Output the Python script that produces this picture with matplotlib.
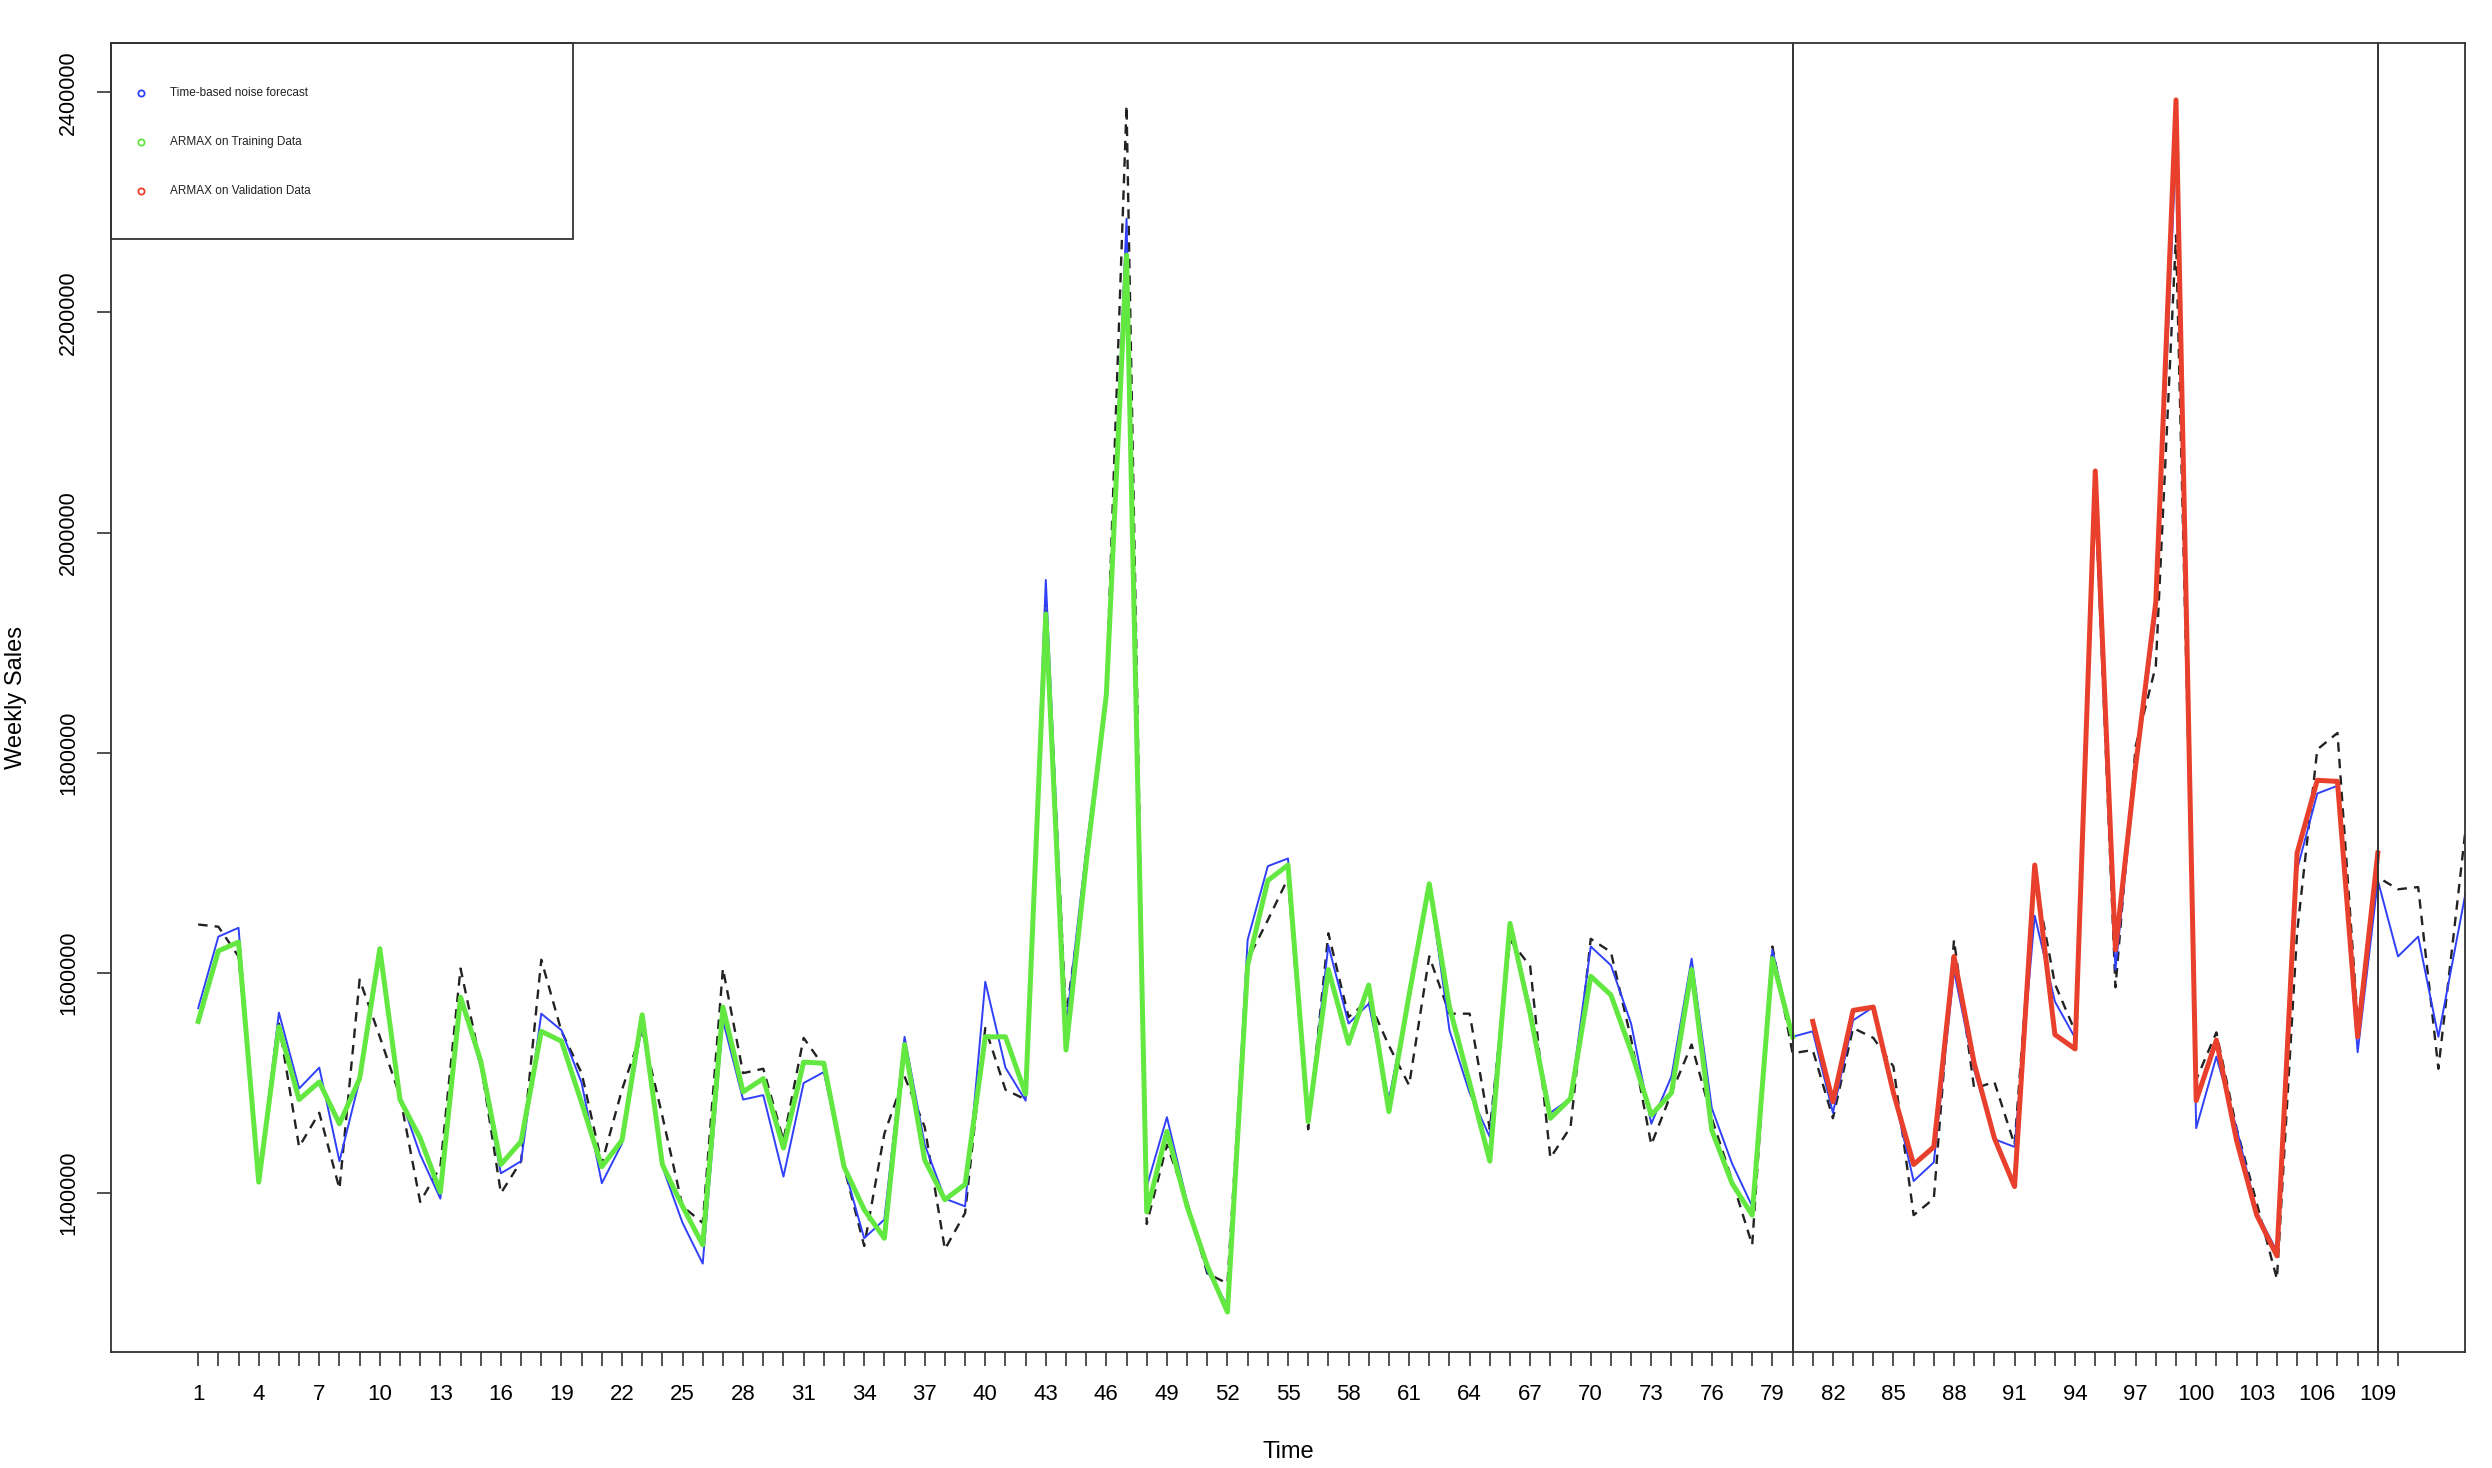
import numpy as np
import matplotlib
matplotlib.use("Agg")
import matplotlib.pyplot as plt
from matplotlib.patches import Rectangle

plt.rcParams['font.family'] = ['Liberation Sans Narrow', 'Liberation Sans', 'DejaVu Sans']

# weekly sales, thousands
actual = [1644, 1642, 1615, 1415, 1554, 1442, 1473, 1404, 1594, 1542,
          1488, 1392, 1424, 1604, 1518, 1400, 1429, 1612, 1547, 1509,
          1427, 1494, 1548, 1470, 1388, 1373, 1604, 1509, 1513, 1448,
          1541, 1515, 1424, 1352, 1454, 1506, 1460, 1349, 1382, 1550,
          1494, 1485, 1939, 1560, 1695, 1858, 2388, 1372, 1444, 1392,
          1327, 1318, 1612, 1648, 1686, 1458, 1636, 1560, 1575, 1534,
          1498, 1615, 1563, 1563, 1458, 1630, 1606, 1432, 1460, 1631,
          1619, 1540, 1444, 1491, 1535, 1468, 1412, 1353, 1624, 1527,
          1530, 1468, 1550, 1541, 1515, 1380, 1395, 1630, 1495, 1501,
          1444, 1688, 1590, 1547, 2035, 1587, 1806, 1879, 2270, 1503,
          1546, 1459, 1391, 1322, 1637, 1803, 1818, 1557, 1687, 1676,
          1678, 1513, 1674, 1837]

noise_fc = [1568, 1633, 1641, 1411, 1564, 1495, 1514, 1429, 1503, 1615,
            1488, 1435, 1395, 1578, 1515, 1418, 1429, 1563, 1548, 1500,
            1409, 1445, 1554, 1424, 1373, 1336, 1557, 1485, 1489, 1415,
            1500, 1510, 1424, 1359, 1376, 1542, 1444, 1395, 1388, 1592,
            1514, 1484, 1957, 1551, 1712, 1853, 2285, 1406, 1469, 1392,
            1329, 1298, 1630, 1697, 1704, 1464, 1625, 1554, 1572, 1485,
            1580, 1681, 1548, 1491, 1451, 1645, 1569, 1473, 1486, 1624,
            1607, 1554, 1463, 1506, 1613, 1477, 1427, 1388, 1621, 1542,
            1547, 1473, 1557, 1569, 1491, 1411, 1428, 1602, 1512, 1449,
            1442, 1652, 1574, 1541, 2029, 1603, 1783, 1926, 2350, 1459,
            1524, 1459, 1383, 1347, 1694, 1763, 1770, 1528, 1684, 1615,
            1633, 1542, 1639, 1736]

armax_train = [1556, 1620, 1628, 1410, 1551, 1485, 1501, 1463, 1504, 1622,
               1485, 1450, 1401, 1578, 1520, 1426, 1447, 1547, 1538, 1482,
               1424, 1448, 1562, 1426, 1388, 1353, 1569, 1492, 1504, 1441,
               1519, 1518, 1424, 1385, 1359, 1535, 1430, 1394, 1408, 1542,
               1542, 1490, 1926, 1530, 1700, 1853, 2252, 1383, 1456, 1388,
               1334, 1292, 1607, 1684, 1698, 1465, 1603, 1536, 1589, 1474,
               1580, 1681, 1569, 1500, 1429, 1645, 1563, 1468, 1486, 1597,
               1580, 1529, 1471, 1491, 1603, 1457, 1409, 1380, 1613, 1542]

armax_valid = [1556, 1483, 1566, 1569, 1491, 1426, 1442, 1615, 1518, 1450,
               1406, 1698, 1544, 1531, 2056, 1621, 1788, 1937, 2393, 1484,
               1539, 1448, 1380, 1343, 1709, 1775, 1774, 1542, 1709]

legend_labels = ["Time-based noise forecast", "ARMAX on Training Data", "ARMAX on Validation Data"]
tick_pos = list(range(1, 111))
tick_labels = [str(i) if (i - 1) % 3 == 0 else "" for i in tick_pos]
y_ticks = [1400000, 1600000, 1800000, 2000000, 2200000, 2400000]

BLUE = "#3040f8"
GREEN = "#62e840"
RED = "#e8402c"

actual = np.array(actual) * 1000
noise_fc = np.array(noise_fc) * 1000
armax_train = np.array(armax_train) * 1000
armax_valid = np.array(armax_valid) * 1000

t_all = np.arange(1, len(actual) + 1)
t_train = np.arange(1, len(armax_train) + 1)
t_valid = np.arange(len(armax_train) + 1, len(armax_train) + len(armax_valid) + 1)

fig = plt.figure(figsize=(24.92, 14.68), dpi=100)
ax = fig.add_axes([0.04454, 0.07902, 0.94463, 0.89169])

ax.plot(t_all, actual, color="#222222", lw=1.7, dashes=(4, 3))
ax.plot(t_all, noise_fc, color=BLUE, lw=1.4)
ax.plot(t_train, armax_train, color=GREEN, lw=3.6)
ax.plot(t_valid, armax_valid, color=RED, lw=3.6)

ax.axvline(80, color="#333333", lw=1.4)
ax.axvline(109, color="#333333", lw=1.4)

ax.set_xlim(-3.32, 113.32)
ax.set_ylim(1255700, 2444700)

ax.set_xticks(tick_pos)
ax.set_xticklabels(tick_labels, fontsize=16)
ax.set_yticks(y_ticks)
ax.set_yticklabels([str(v) for v in y_ticks], fontsize=15.5, rotation=90, va="center")
ax.tick_params(axis="both", direction="out", length=10, width=1.1, color="#222222")
ax.tick_params(axis="x", pad=13)
ax.tick_params(axis="y", pad=13)

for s in ax.spines.values():
    s.set_linewidth(1.3)
    s.set_color("#333333")

ax.set_xlabel("Time", fontsize=17)
ax.set_ylabel("Weekly Sales", fontsize=17)
ax.xaxis.set_label_coords(0.5, -0.068)
ax.yaxis.set_label_coords(-0.0355, 0.5)

# legend box, drawn the way R's legend() looks
ax.add_patch(Rectangle((0, 0.8503), 0.1963, 0.1497, transform=ax.transAxes,
                       fill=False, edgecolor="#333333", lw=1.3, zorder=5, clip_on=False))
leg_y = [0.9620, 0.9244, 0.8867]
for lab, col, yy in zip(legend_labels, [BLUE, GREEN, RED], leg_y):
    ax.plot([0.01262], [yy], marker="o", ms=4.5, mfc="none", mec=col, mew=1.3,
            transform=ax.transAxes, zorder=6, clip_on=False)
    ax.text(0.02506, yy, lab, transform=ax.transAxes, fontsize=8.5, va="center",
            ha="left", family=["Liberation Sans", "DejaVu Sans"], color="#222222")

fig.savefig("out.png", dpi=100)
